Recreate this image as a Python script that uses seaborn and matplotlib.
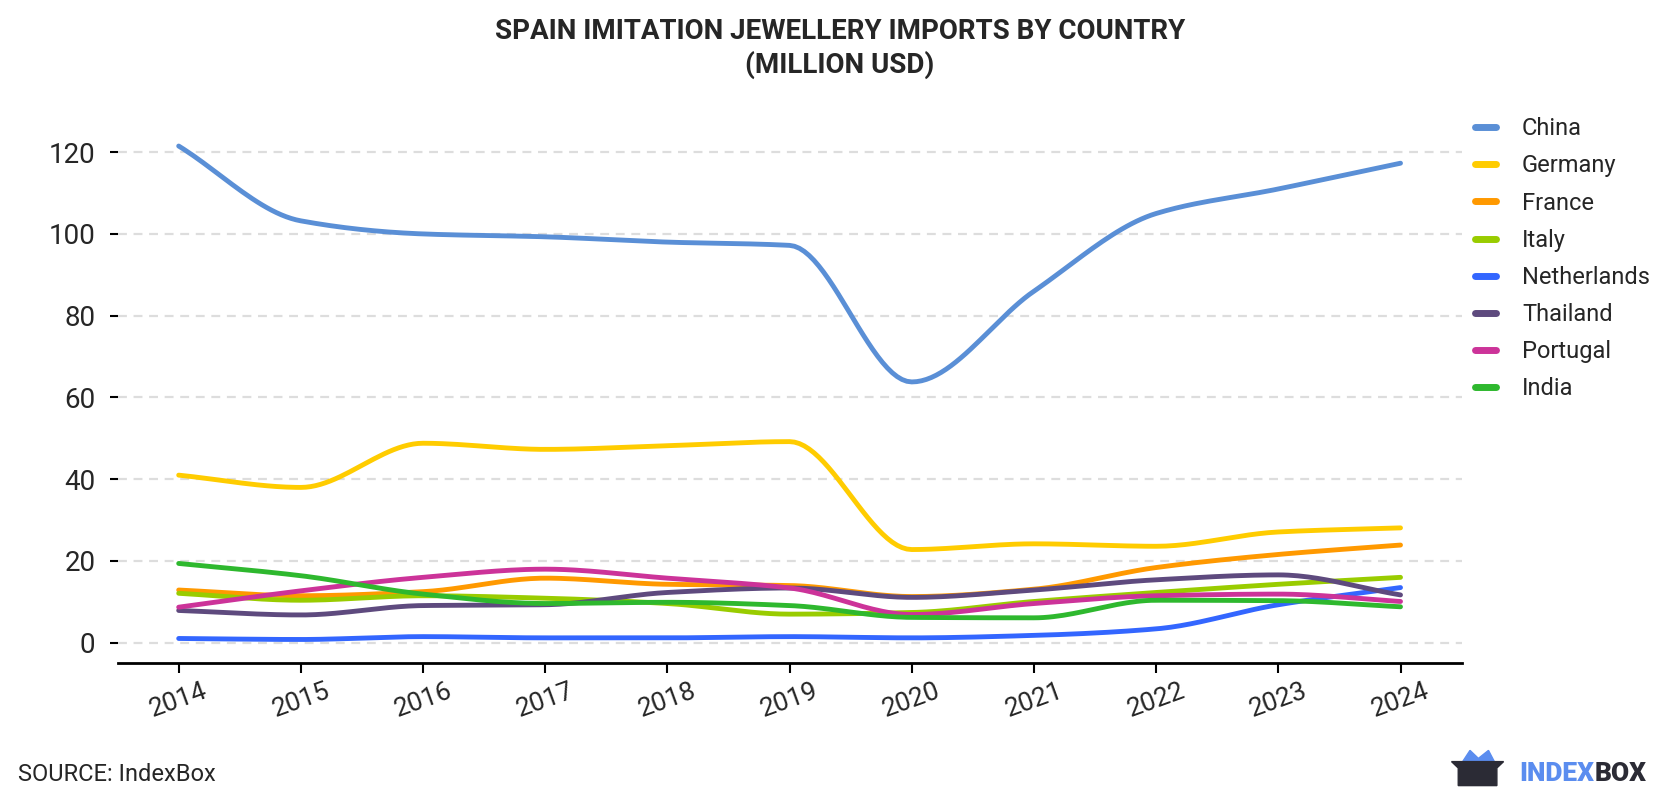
import numpy as np
import pandas as pd
import seaborn as sns
import matplotlib.pyplot as plt
from matplotlib.patches import Polygon

sns.set_theme(style="white")
plt.rcParams['font.family'] = ['Roboto', 'DejaVu Sans']

years = [2014, 2015, 2016, 2017, 2018, 2019, 2020, 2021, 2022, 2023, 2024]
countries = ['China', 'Germany', 'France', 'Italy', 'Netherlands', 'Thailand', 'Portugal', 'India']

china = [121.5, 103.2, 100.0, 99.3, 98.0, 97.2, 63.8, 86.0, 105.0, 111.0, 117.3]
germany = [41.0, 38.0, 48.8, 47.3, 48.2, 49.2, 22.8, 24.2, 23.6, 27.1, 28.1]
france = [12.9, 11.5, 12.5, 15.8, 14.3, 14.0, 11.3, 13.1, 18.4, 21.6, 23.9]
italy = [12.1, 10.4, 11.5, 10.9, 9.6, 7.0, 7.4, 10.1, 12.3, 14.3, 16.0]
netherlands = [1.05, 0.8, 1.5, 1.2, 1.2, 1.5, 1.2, 1.8, 3.4, 9.3, 13.5]
thailand = [7.9, 6.8, 9.1, 9.3, 12.3, 13.4, 11.1, 12.9, 15.4, 16.6, 11.7]
portugal = [8.7, 12.7, 16.0, 18.0, 15.8, 13.4, 6.9, 9.6, 11.5, 11.9, 10.1]
india = [19.4, 16.4, 11.9, 9.6, 9.9, 9.1, 6.2, 6.1, 10.4, 10.3, 8.8]

series = [china, germany, france, italy, netherlands, thailand, portugal, india]
colors = ['#5a8fd6', '#ffcc00', '#ff9900', '#99cc00', '#3366ff', '#5e4a7e', '#cc3399', '#2eb82e']


def monotone(x, y, n=25):
    # monotone cubic (Fritsch-Carlson), only used to draw a smooth curve
    x = np.asarray(x, float)
    y = np.asarray(y, float)
    h = np.diff(x)
    d = np.diff(y) / h
    m = np.zeros_like(y)
    m[0], m[-1] = d[0], d[-1]
    for i in range(1, len(y) - 1):
        if d[i - 1] * d[i] > 0:
            w1 = 2 * h[i] + h[i - 1]
            w2 = h[i] + 2 * h[i - 1]
            m[i] = (w1 + w2) / (w1 / d[i - 1] + w2 / d[i])
    xs, ys = [], []
    for i in range(len(x) - 1):
        t = np.linspace(0, 1, n, endpoint=False)
        h00 = 2 * t**3 - 3 * t**2 + 1
        h10 = t**3 - 2 * t**2 + t
        h01 = -2 * t**3 + 3 * t**2
        h11 = t**3 - t**2
        xs.append(x[i] + t * h[i])
        ys.append(h00 * y[i] + h10 * h[i] * m[i] + h01 * y[i + 1] + h11 * h[i] * m[i + 1])
    xs.append([x[-1]])
    ys.append([y[-1]])
    return np.concatenate(xs), np.concatenate(ys)


frames = []
for name, vals in zip(countries, series):
    sx, sy = monotone(years, vals)
    frames.append(pd.DataFrame({'year': sx, 'value': sy, 'country': name}))
df = pd.concat(frames, ignore_index=True)

fig = plt.figure(figsize=(16.8, 8), dpi=100)
ax = fig.add_axes([0.070, 0.171, 0.800, 0.695])

sns.lineplot(data=df, x='year', y='value', hue='country', hue_order=countries,
             palette=colors, linewidth=3.5, ax=ax, sort=False, estimator=None)

ax.set_xlim(2013.5, 2024.5)
ax.set_ylim(-5, 131)
ax.set_xticks(years)
ax.set_xticklabels([str(y) for y in years], rotation=20, fontsize=19)
ax.set_yticks([0, 20, 40, 60, 80, 100, 120])
ax.set_yticklabels(['0', '20', '40', '60', '80', '100', '120'], fontsize=20)
ax.set_xlabel('')
ax.set_ylabel('')
ax.yaxis.grid(True, linestyle=(0, (4, 3)), color='#dddddd', linewidth=1.6)
ax.xaxis.grid(False)
for s in ['left', 'right', 'top']:
    ax.spines[s].set_visible(False)
ax.spines['bottom'].set_color('black')
ax.spines['bottom'].set_linewidth(2)
ax.tick_params(axis='x', length=7, width=1.5, color='black', bottom=True, pad=4)
ax.tick_params(axis='y', length=6, width=1.5, color='black', left=True, pad=10)

leg = ax.legend(loc='upper left', bbox_to_anchor=(0.994, 1.02), frameon=False,
                fontsize=17, handlelength=0.9, handletextpad=1.1, labelspacing=0.6)
for line in leg.get_lines():
    line.set_linewidth(5)

fig.text(0.5, 0.978, 'SPAIN IMITATION JEWELLERY IMPORTS BY COUNTRY\n(MILLION USD)',
         ha='center', va='top', fontsize=20, fontweight='bold', linespacing=1.3)
fig.text(0.011, 0.032, 'SOURCE: IndexBox', ha='left', va='center', fontsize=17)

# logo
t_index = fig.text(0.9045, 0.032, 'INDEX', ha='left', va='center', fontsize=19,
                   fontweight='black', color='#5b8def')
fig.add_artist(plt.Annotation('BOX', xy=(1, 0.5), xycoords=t_index, ha='left', va='center',
                              fontsize=19, fontweight='black', color='#2b2b35',
                              annotation_clip=False))
fig.patches.append(Polygon([[0.870, 0.046], [0.875, 0.062], [0.880, 0.052], [0.886, 0.062], [0.890, 0.046]],
                           closed=True, transform=fig.transFigure, color='#5b8def'))
fig.patches.append(Polygon([[0.864, 0.048], [0.895, 0.048], [0.891, 0.040], [0.891, 0.018], [0.868, 0.018], [0.868, 0.040]],
                           closed=True, transform=fig.transFigure, color='#2b2b35'))

fig.savefig('out.png', dpi=100)
